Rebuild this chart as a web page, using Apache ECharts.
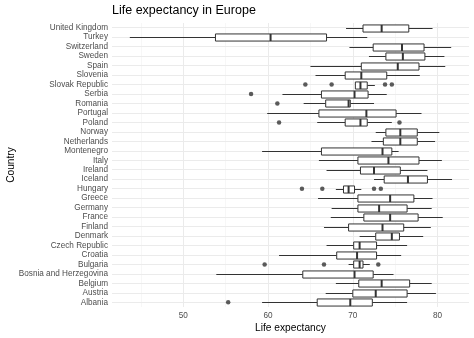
<!DOCTYPE html>
<html>
<head>
<meta charset="utf-8">
<script src="https://cdn.jsdelivr.net/npm/echarts@6/dist/echarts.min.js"></script>
<style>html,body{margin:0;padding:0;background:#fff}#c{width:474px;height:338px}</style>
</head>
<body>
<div id="c"></div>
<script>
// Categories, bottom to top
var countries = ["Albania","Austria","Belgium","Bosnia and Herzegovina","Bulgaria","Croatia","Czech Republic","Denmark","Finland","France","Germany","Greece","Hungary","Iceland","Ireland","Italy","Montenegro","Netherlands","Norway","Poland","Portugal","Romania","Serbia","Slovak Republic","Slovenia","Spain","Sweden","Switzerland","Turkey","United Kingdom"];
var whiskerLow  = [59.3,66.8,68.0,53.9,69.5,61.3,66.9,70.8,66.6,67.4,67.5,65.9,68.0,72.5,66.9,66.0,59.3,72.2,72.7,65.8,59.9,64.2,61.7,70.3,65.6,65.0,71.9,69.6,43.7,69.2];
var q1          = [65.8,70.0,70.7,64.1,70.1,68.1,70.1,72.7,69.5,71.3,70.6,70.6,68.9,73.7,70.9,70.6,66.3,73.6,73.9,69.1,66.0,66.8,66.3,70.3,69.1,71.0,73.9,72.4,53.8,71.2];
var median      = [69.7,72.7,73.4,70.2,70.8,70.5,70.8,74.6,73.5,74.4,73.1,74.4,69.5,76.5,72.5,74.2,73.5,75.6,75.6,70.9,71.6,69.5,70.2,70.9,71.0,75.3,75.9,75.8,60.3,73.4];
var q3          = [72.3,76.4,76.7,72.4,71.2,72.8,72.8,75.5,76.0,77.7,76.4,77.2,70.2,78.8,75.6,77.8,74.6,77.6,77.6,71.7,75.1,69.7,71.8,71.7,74.0,77.8,78.5,78.4,66.9,76.6];
var whiskerHigh = [76.4,79.8,79.3,74.8,72.0,75.7,76.4,78.3,79.2,80.6,79.3,79.4,71.0,81.7,78.8,80.5,75.4,79.7,80.2,74.6,78.1,72.5,74.0,72.6,77.9,80.9,80.8,81.6,71.7,79.4];
var outlierCountry = ["Albania","Bulgaria","Bulgaria","Bulgaria","Hungary","Hungary","Hungary","Hungary","Poland","Poland","Romania","Serbia","Slovak Republic","Slovak Republic","Slovak Republic","Slovak Republic"];
var outlierValue   = [55.3,59.6,66.6,73.0,64.0,66.4,72.5,73.3,61.3,75.5,61.1,58.0,64.4,67.5,73.8,74.6];
var xLabelTicks = [50,60,70,80];
var xMinorTicks = [45,55,65,75];

var boxData = countries.map(function(c,i){return [i, whiskerLow[i], q1[i], median[i], q3[i], whiskerHigh[i]];});
var outData = outlierCountry.map(function(c,i){return [outlierValue[i], c];});

var gridLines = [];
xMinorTicks.forEach(function(v){gridLines.push({xAxis:v, lineStyle:{color:'#f2f2f2', width:0.6, type:'solid'}});});
xLabelTicks.forEach(function(v){gridLines.push({xAxis:v, lineStyle:{color:'#ebebeb', width:1, type:'solid'}});});
countries.forEach(function(c){gridLines.push({yAxis:c, lineStyle:{color:'#ebebeb', width:1, type:'solid'}});});

var chart = echarts.init(document.getElementById('c'), null, {renderer:'canvas'});
chart.setOption({
  animation:false,
  backgroundColor:'#ffffff',
  title:{text:'Life expectancy in Europe', left:112, top:4, padding:0, textStyle:{fontFamily:'Liberation Sans', fontSize:12.5, fontWeight:'normal', color:'#000'}},
  grid:{left:112, right:5, top:23, bottom:31, containLabel:false, outerBoundsMode:'none'},
  xAxis:{type:'value', min:41.6, max:83.7,
    name:'Life expectancy', nameLocation:'middle', nameGap:16, nameMoveOverlap:false,
    nameTextStyle:{fontFamily:'Liberation Sans', fontSize:10.2, color:'#000'},
    axisLine:{show:false}, axisTick:{show:false}, splitLine:{show:false},
    axisLabel:{customValues:xLabelTicks, fontFamily:'Liberation Sans', fontSize:8.2, color:'#4d4d4d', margin:5}
  },
  yAxis:{type:'category', data:countries, boundaryGap:true,
    name:'Country', nameLocation:'middle', nameGap:96, nameRotate:90, nameMoveOverlap:false,
    nameTextStyle:{fontFamily:'Liberation Sans', fontSize:10.2, color:'#000'},
    axisLine:{show:false}, axisTick:{show:false}, splitLine:{show:false},
    axisLabel:{fontFamily:'Liberation Sans', fontSize:8.2, color:'#4d4d4d', margin:4, interval:0}
  },
  series:[
    {type:'scatter', data:[], z:1, silent:true,
      markLine:{z:1, silent:true, symbol:['none','none'], label:{show:false}, animation:false, data:gridLines}},
    {type:'custom', z:5, data:boxData, encode:{x:[1,2,3,4,5], y:0},
      renderItem:function(params, api){
        var yi = api.value(0);
        var lo = api.coord([api.value(1), yi]);
        var b1 = api.coord([api.value(2), yi]);
        var md = api.coord([api.value(3), yi]);
        var b3 = api.coord([api.value(4), yi]);
        var hi = api.coord([api.value(5), yi]);
        var band = api.size([0,1])[1];
        var h = band*0.75;
        var y = Math.round(lo[1]) + 0.5;
        return {type:'group', children:[
          {type:'line', shape:{x1:lo[0], y1:y, x2:b1[0], y2:y}, style:{stroke:'#333333', lineWidth:1}},
          {type:'line', shape:{x1:b3[0], y1:y, x2:hi[0], y2:y}, style:{stroke:'#333333', lineWidth:1}},
          {type:'rect', shape:{x:b1[0], y:y-h/2, width:b3[0]-b1[0], height:h}, style:{fill:'#ffffff', stroke:'#333333', lineWidth:1}},
          {type:'line', shape:{x1:md[0], y1:y-h/2, x2:md[0], y2:y+h/2}, style:{stroke:'#333333', lineWidth:2}}
        ]};
      }
    },
    {type:'scatter', z:6, data:outData, symbol:'circle', symbolSize:4.5, itemStyle:{color:'#333333'}}
  ]
});
</script>
</body>
</html>
